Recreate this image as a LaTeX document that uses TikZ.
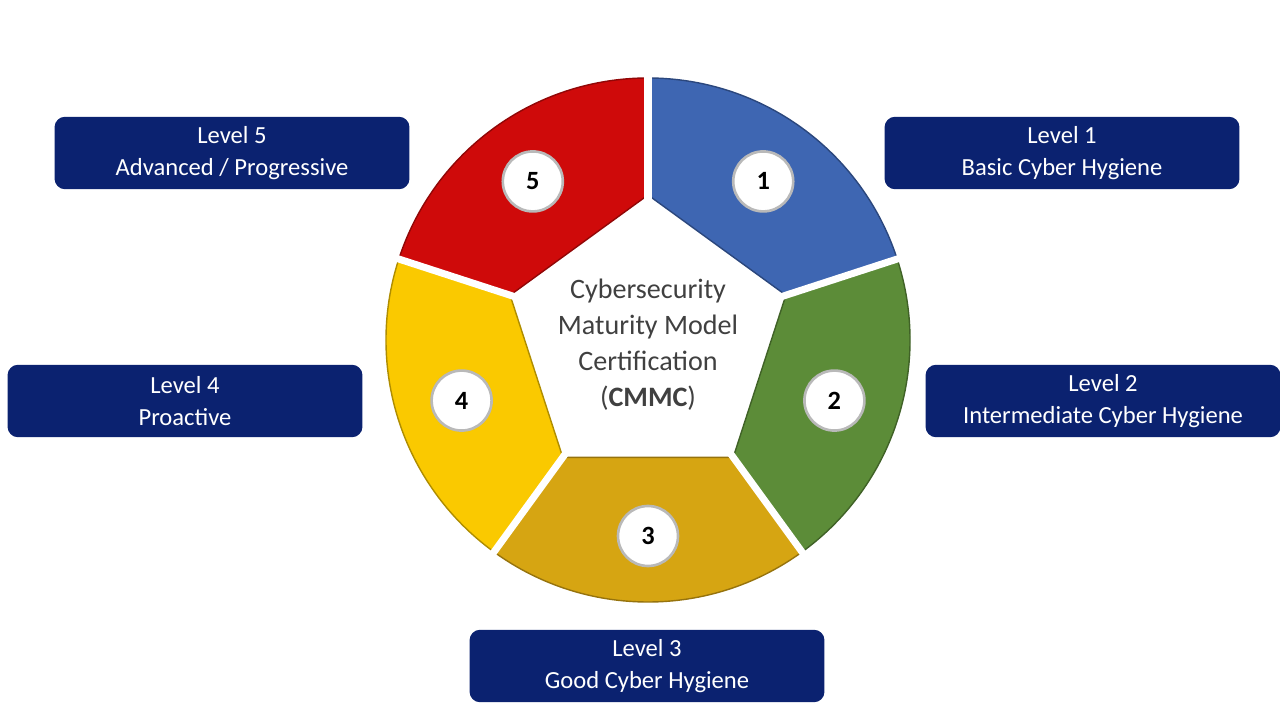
\documentclass[tikz,border=0pt]{standalone}
\usepackage{fontspec}
\setmainfont{Carlito}
\usepackage{tikz}
\usepackage{xcolor}
\usetikzlibrary{positioning}

\definecolor{navy}{HTML}{0B2270}
\definecolor{segblue}{HTML}{3E66B2}
\definecolor{seggreen}{HTML}{5C8C38}
\definecolor{seggold}{HTML}{D6A512}
\definecolor{segyellow}{HTML}{FAC900}
\definecolor{segred}{HTML}{CF0A0A}
\definecolor{midtext}{HTML}{404040}

\tikzset{
  lvlbox/.style={fill=navy, text=white, rounded corners=6pt, align=center,
    minimum width=7.1cm, minimum height=1.45cm, font=\fontsize{14}{18}\selectfont},
  numball/.style={circle, fill=white, draw=gray!55, line width=1.5pt,
    minimum size=1.2cm, font=\fontsize{15}{18}\selectfont\bfseries}
}

\begin{document}
\begin{tikzpicture}[x=0.02cm,y=0.02cm]
\useasboundingbox (0,0) rectangle (1280,720);

% wheel
\begin{scope}[shift={(648,380)}]
\foreach \a/\col/\n in {90/segblue/1,18/seggreen/2,-54/seggold/3,-126/segyellow/4,162/segred/5}{
  \pgfmathsetmacro{\b}{\a-72}
  \filldraw[fill=\col, draw=\col!70!black, line width=0.8pt]
    (\a:145) -- (\a:262) arc[start angle=\a, end angle=\b, radius=262] -- (\b:145) -- cycle;
}
\foreach \a in {90,18,-54,-126,162}
  \draw[white, line width=4pt] (\a:138) -- (\a:272);
\foreach \a/\n in {90/1,18/2,-54/3,-126/4,162/5}
  \node[numball] (n\n) at (\a-36:196) {\n};
\node[align=center, text=midtext, font=\fontsize{16}{20.5}\selectfont] (title) at (0,-5)
  {Cybersecurity\\Maturity Model\\Certification\\(\textbf{CMMC})};
\end{scope}

% level boxes
\node[lvlbox] (lvl5) at (232,567) {Level 5\\Advanced / Progressive};
\node[lvlbox] (lvl1) at (1062,567) {Level 1\\Basic Cyber Hygiene};
\node[lvlbox] (lvl4) at (185,319) {Level 4\\Proactive};
\node[lvlbox] (lvl2) at (1103,319) {Level 2\\Intermediate Cyber Hygiene};
\node[lvlbox] (lvl3) at (647,54) {Level 3\\Good Cyber Hygiene};

\end{tikzpicture}
\end{document}
